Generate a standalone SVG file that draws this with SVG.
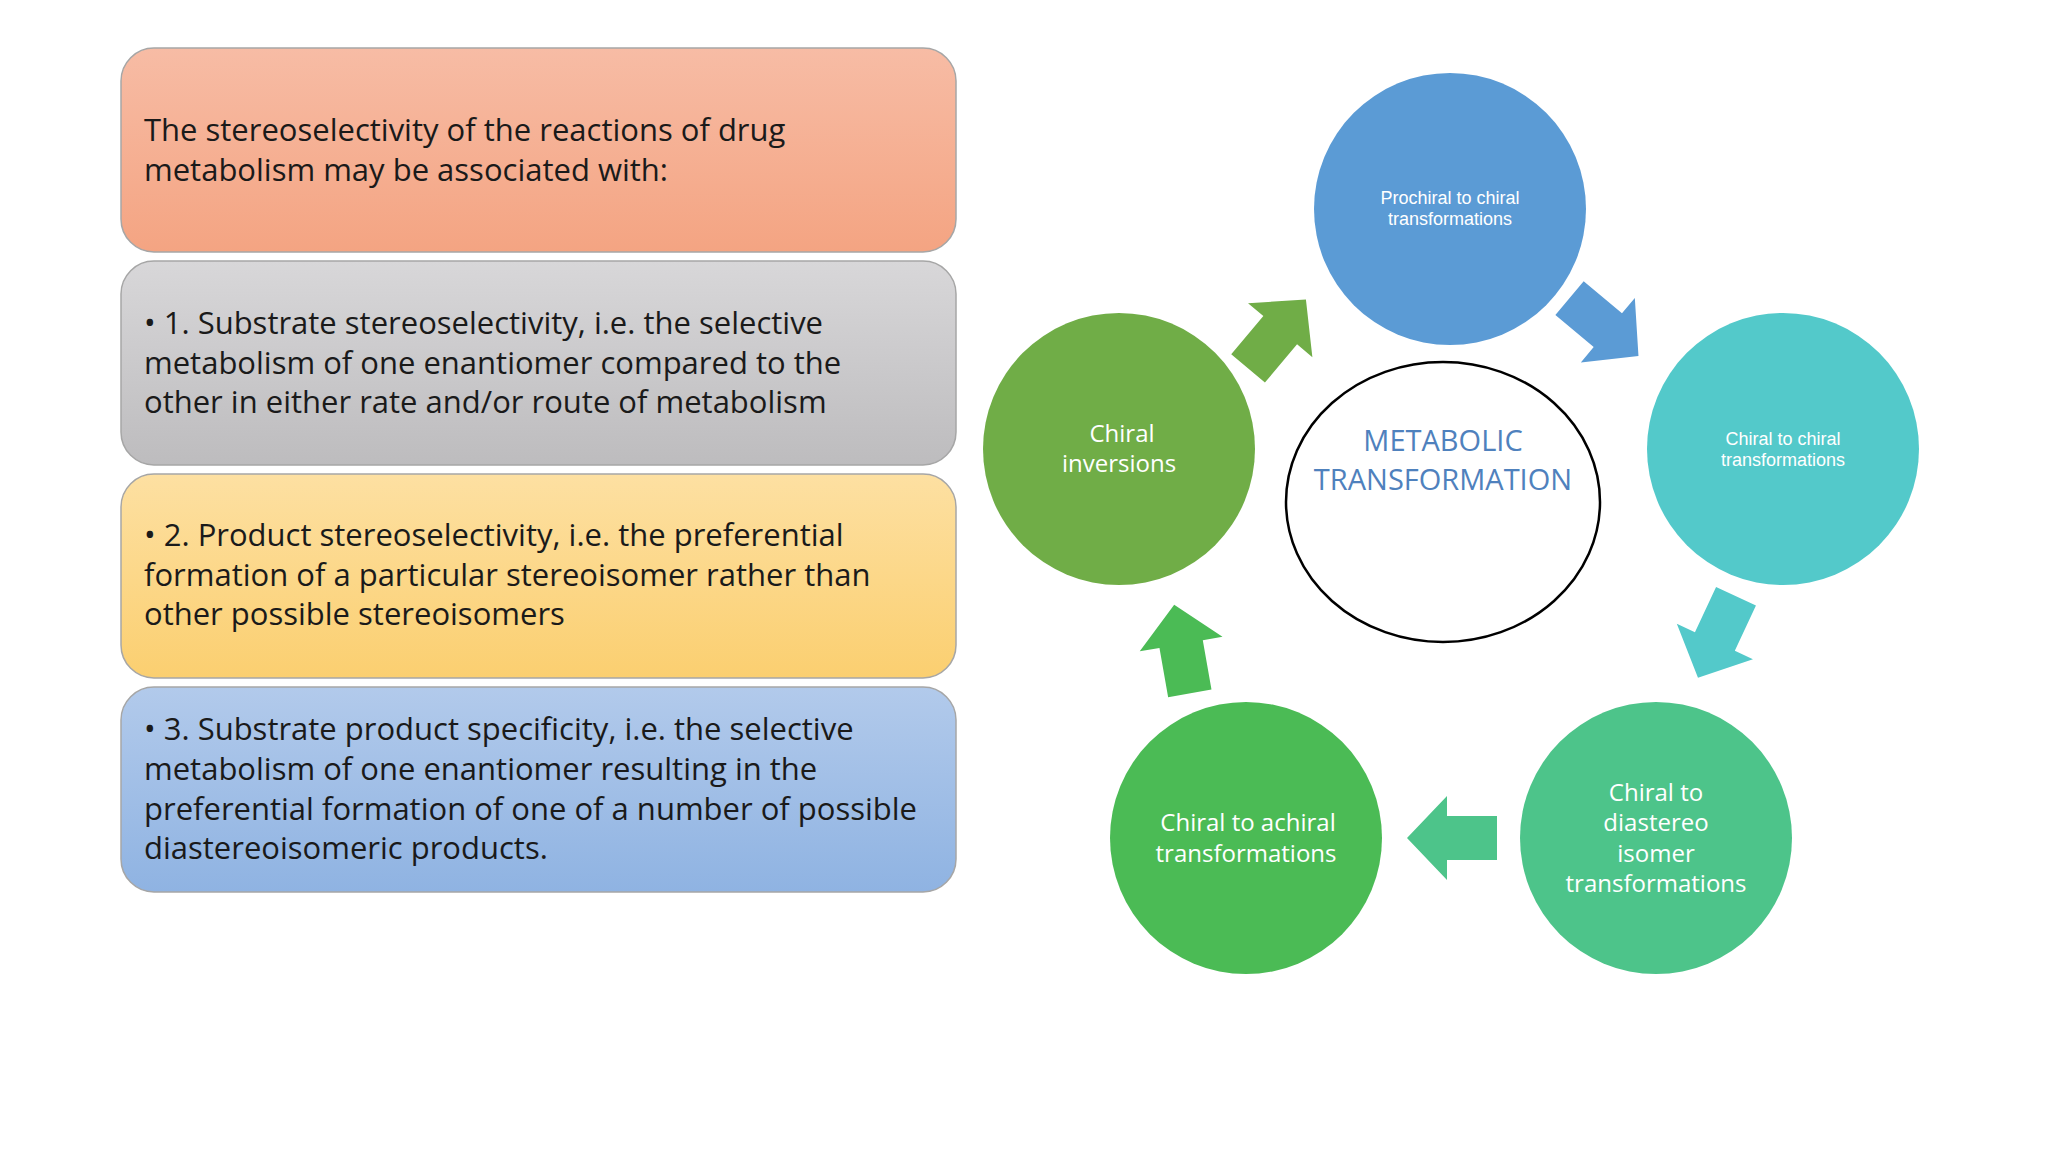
<svg xmlns="http://www.w3.org/2000/svg" width="2048" height="1152" viewBox="0 0 2048 1152">
<style>
.bt{font-family:"Open Sans","Liberation Sans",sans-serif;font-size:31px;fill:#1a1a1a}
.box{stroke:#a6a6a6;stroke-width:1.5}
.ct{font-family:"Liberation Sans",sans-serif;font-size:18px;fill:#fff;text-anchor:middle}
.cb{font-family:"Open Sans","Liberation Sans",sans-serif;font-size:24px;fill:#fff;text-anchor:middle}
</style>
<defs>
<linearGradient id="g1" x1="0" y1="0" x2="0" y2="1"><stop offset="0" stop-color="#f7bca5"/><stop offset="1" stop-color="#f4a482"/></linearGradient>
<linearGradient id="g2" x1="0" y1="0" x2="0" y2="1"><stop offset="0" stop-color="#d8d7d9"/><stop offset="1" stop-color="#bdbcbe"/></linearGradient>
<linearGradient id="g3" x1="0" y1="0" x2="0" y2="1"><stop offset="0" stop-color="#fde0a2"/><stop offset="1" stop-color="#fbcf70"/></linearGradient>
<linearGradient id="g4" x1="0" y1="0" x2="0" y2="1"><stop offset="0" stop-color="#b2caeb"/><stop offset="1" stop-color="#8fb3e2"/></linearGradient>
<polygon id="arr" points="-45,-22 5,-22 5,-42 45,0 5,42 5,22 -45,22"/>
</defs>
<rect width="2048" height="1152" fill="#fff"/>
<g id="box1"><rect class="box" x="121" y="48" width="835" height="204" rx="33" fill="url(#g1)"/>
<text class="bt" x="144" y="141">The stereoselectivity of the reactions of drug</text>
<text class="bt" x="144" y="181">metabolism may be associated with:</text></g>
<g id="box2"><rect class="box" x="121" y="261" width="835" height="204" rx="33" fill="url(#g2)"/>
<text class="bt" x="144" y="334">• 1. Substrate stereoselectivity, i.e. the selective</text>
<text class="bt" x="144" y="374">metabolism of one enantiomer compared to the</text>
<text class="bt" x="144" y="413">other in either rate and/or route of metabolism</text></g>
<g id="box3"><rect class="box" x="121" y="474" width="835" height="204" rx="33" fill="url(#g3)"/>
<text class="bt" x="144" y="546">• 2. Product stereoselectivity, i.e. the preferential</text>
<text class="bt" x="144" y="586">formation of a particular stereoisomer rather than</text>
<text class="bt" x="144" y="625">other possible stereoisomers</text></g>
<g id="box4"><rect class="box" x="121" y="687" width="835" height="205" rx="33" fill="url(#g4)"/>
<text class="bt" x="144" y="740">• 3. Substrate product specificity, i.e. the selective</text>
<text class="bt" x="144" y="780">metabolism of one enantiomer resulting in the</text>
<text class="bt" x="144" y="820">preferential formation of one of a number of possible</text>
<text class="bt" x="144" y="859">diastereoisomeric products.</text></g>
<g id="center"><ellipse cx="1443" cy="502" rx="157" ry="140" fill="#fff" stroke="#000" stroke-width="2.5"/>
<text x="1443" y="451" text-anchor="middle" font-family="Open Sans,Liberation Sans,sans-serif" font-size="29" fill="#4f81bd">METABOLIC</text>
<text x="1443" y="490" text-anchor="middle" font-family="Open Sans,Liberation Sans,sans-serif" font-size="29" fill="#4f81bd">TRANSFORMATION</text></g>
<g id="n1"><circle cx="1450" cy="209" r="136" fill="#5b9bd5"/>
<text class="ct" x="1450" y="204">Prochiral to chiral</text><text class="ct" x="1450" y="225">transformations</text></g>
<g id="n2"><circle cx="1783" cy="449" r="136" fill="#53c9ca"/>
<text class="ct" x="1783" y="445">Chiral to chiral</text><text class="ct" x="1783" y="466">transformations</text></g>
<g id="n3"><circle cx="1656" cy="838" r="136" fill="#4dc48a"/>
<text class="cb" x="1656" y="801">Chiral to</text><text class="cb" x="1656" y="831">diastereo</text><text class="cb" x="1656" y="862">isomer</text><text class="cb" x="1656" y="892">transformations</text></g>
<g id="n4"><circle cx="1246" cy="838" r="136" fill="#4bbb55"/>
<text class="cb" x="1248" y="831">Chiral to achiral</text><text class="cb" x="1246" y="862">transformations</text></g>
<g id="n5"><circle cx="1119" cy="449" r="136" fill="#70ad47"/>
<text class="cb" x="1122" y="442">Chiral</text><text class="cb" x="1119" y="472">inversions</text></g>
<g id="connectors">
<use href="#arr" transform="translate(1277,334) rotate(-50)" fill="#70ad47"/>
<use href="#arr" transform="translate(1604,327) rotate(40)" fill="#5b9bd5"/>
<use href="#arr" transform="translate(1717,637) rotate(115)" fill="#53c9ca"/>
<use href="#arr" transform="translate(1452,838) rotate(180)" fill="#4dc48a"/>
<use href="#arr" transform="translate(1182,649) rotate(-100)" fill="#4bbb55"/>
</g>
</svg>
